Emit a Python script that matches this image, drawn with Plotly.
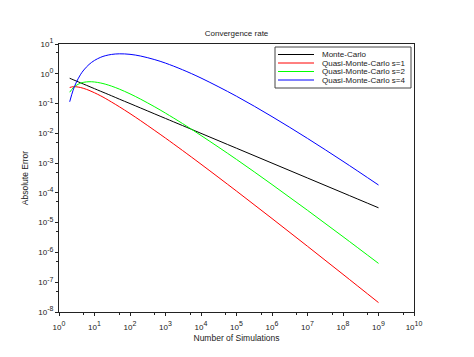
import plotly.graph_objects as go

# Number of simulations (x values)
n_sims = [2, 2.5, 3, 4, 5, 7, 10, 15, 20, 30, 50, 100, 200, 500, 1e3, 3e3, 1e4, 1e5, 1e6, 1e7, 1e8, 1e9]

# Absolute error per method
mc = [0.707, 0.632, 0.577, 0.5, 0.447, 0.378, 0.316, 0.258, 0.224, 0.183, 0.141, 0.1, 0.0707,
      0.0447, 0.0316, 0.0183, 0.01, 3.16e-3, 1e-3, 3.16e-4, 1e-4, 3.16e-5]
qmc_s1 = [0.347, 0.367, 0.366, 0.347, 0.322, 0.278, 0.230, 0.181, 0.150, 0.113, 0.0782, 0.0461, 0.0265,
          0.0124, 6.91e-3, 2.67e-3, 9.21e-4, 1.15e-4, 1.38e-5, 1.61e-6, 1.84e-7, 2.07e-8]
qmc_s2 = [0.240, 0.336, 0.403, 0.480, 0.518, 0.541, 0.530, 0.489, 0.449, 0.386, 0.306, 0.212, 0.140,
          0.0773, 0.0477, 0.0214, 8.48e-3, 1.33e-3, 1.91e-4, 2.60e-5, 3.39e-6, 4.29e-7]
qmc_s4 = [0.115, 0.282, 0.486, 0.923, 1.34, 2.05, 2.81, 3.59, 4.03, 4.46, 4.68, 4.50, 3.94,
          2.98, 2.28, 1.37, 0.72, 0.176, 0.0364, 6.75e-3, 1.15e-3, 1.84e-4]

series_names = ["Monte-Carlo", "Quasi-Monte-Carlo s=1", "Quasi-Monte-Carlo s=2", "Quasi-Monte-Carlo s=4"]
series_colors = ["#000000", "#ff0000", "#00ff00", "#0000ff"]

x_exps = list(range(0, 11))
y_exps = list(range(-8, 2))

FONT = "Liberation Sans, Arial, sans-serif"
W, H = 474, 357
ML, MR, MT, MB = 59, 60, 44, 45
PW, PH = W - ML - MR, H - MT - MB


def px_x(px):
    return (px - ML) / PW


def px_y(py):
    return (H - MB - py) / PH


def pow_label(e):
    return f"10<sup><span style=\"font-size:7px\">{e}</span></sup>"


fig = go.Figure()
for name, ys, col in zip(series_names, [mc, qmc_s1, qmc_s2, qmc_s4], series_colors):
    fig.add_trace(go.Scatter(x=n_sims, y=ys, mode="lines", name=name,
                             line=dict(color=col, width=1, shape="spline")))

# manual legend (Scilab style compact box)
shapes = [dict(type="rect", xref="paper", yref="paper",
               x0=px_x(275), x1=px_x(411), y0=px_y(88), y1=px_y(47),
               line=dict(color="#444", width=1), fillcolor="white", layer="above")]
annotations = []
row_y = [54.5, 63, 71.5, 80]
for name, col, ry in zip(series_names, series_colors, row_y):
    shapes.append(dict(type="line", xref="paper", yref="paper",
                       x0=px_x(278), x1=px_x(314), y0=px_y(ry), y1=px_y(ry),
                       line=dict(color=col, width=1), layer="above"))
    annotations.append(dict(text=name, xref="paper", yref="paper", x=px_x(320), y=px_y(ry),
                            xanchor="left", yanchor="middle", showarrow=False,
                            font=dict(size=8, color="#222")))

fig.update_layout(
    width=W, height=H,
    margin=dict(l=ML, r=MR, t=MT, b=MB),
    paper_bgcolor="white", plot_bgcolor="white",
    font=dict(family=FONT, size=8, color="#222"),
    title=dict(text="Convergence rate", x=0.5, xref="paper", xanchor="center",
               y=1 - 33 / H, yanchor="middle", font=dict(size=8, color="#222")),
    showlegend=False,
    shapes=shapes, annotations=annotations,
)

fig.update_xaxes(
    type="log", range=[0, 10], showgrid=False, zeroline=False, automargin=False,
    showline=True, linecolor="#222", linewidth=1, mirror=True,
    ticks="outside", ticklen=3, tickcolor="#222", ticklabelstandoff=4,
    tickvals=[10 ** e for e in x_exps],
    ticktext=[pow_label(e) for e in x_exps],
    tickfont=dict(size=8, color="#222"),
    minor=dict(tickvals=[5 * 10 ** e for e in x_exps[:-1]], ticks="outside", ticklen=2, tickcolor="#222"),
    title=dict(text="Number of Simulations", font=dict(size=8.5, color="#222"), standoff=4),
)
fig.update_yaxes(
    type="log", range=[-8, 1], showgrid=False, zeroline=False, automargin=False,
    showline=True, linecolor="#222", linewidth=1, mirror=True,
    ticks="outside", ticklen=3, tickcolor="#222",
    tickvals=[10.0 ** e for e in y_exps],
    ticktext=[pow_label(e) for e in y_exps],
    tickfont=dict(size=8, color="#222"),
    minor=dict(tickvals=[5 * 10.0 ** e for e in y_exps[:-1]], ticks="outside", ticklen=2, tickcolor="#222"),
    title=dict(text="Absolute Error", font=dict(size=8.5, color="#222"), standoff=8),
)

fig.write_html("out.html", config={"displayModeBar": False},
               post_script="document.body.style.margin='0';")
